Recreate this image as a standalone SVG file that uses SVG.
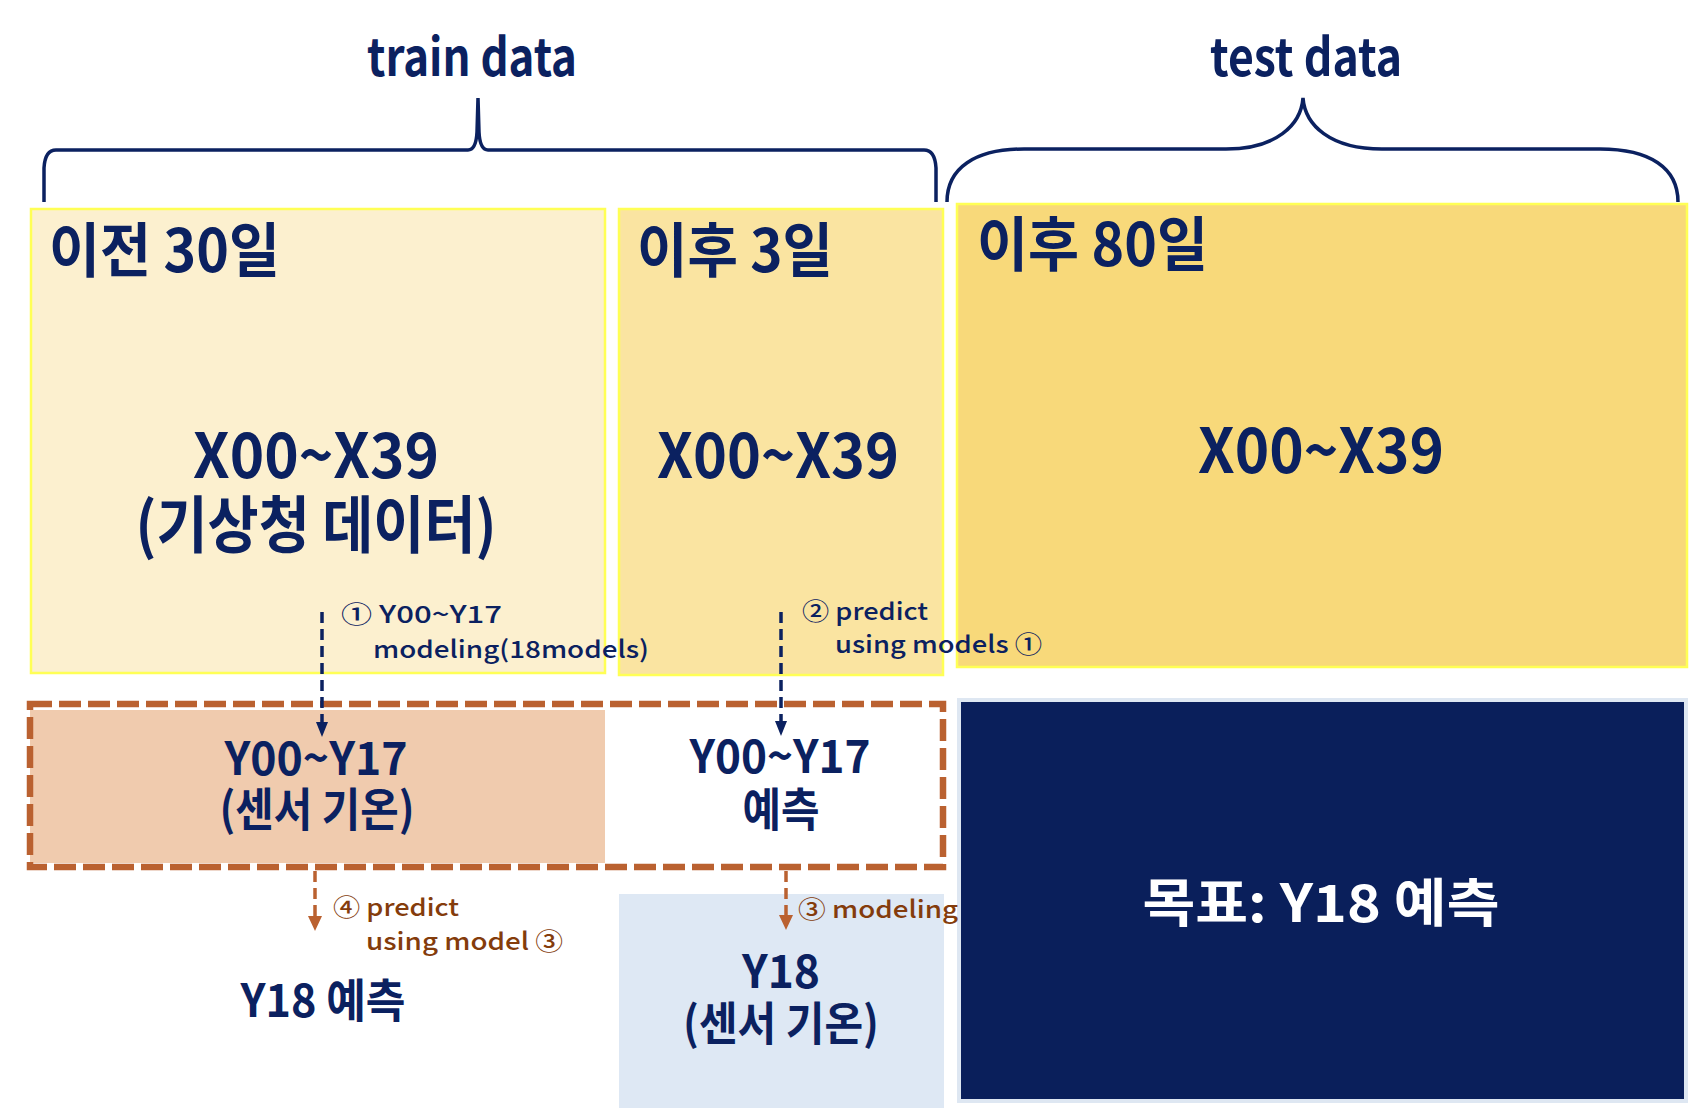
<svg xmlns="http://www.w3.org/2000/svg" width="1702" height="1118" viewBox="0 0 1702 1118">
<style>
.t{font-family:"Noto Sans CJK KR","Noto Sans",sans-serif;font-weight:700;fill:#0B2160}
.w{fill:#FFFFFF}
.c{text-anchor:middle}
.a{font-family:"Noto Sans CJK KR","Noto Sans",sans-serif;font-weight:500;font-size:24px;fill:#0B2160}
.b{font-family:"Noto Sans CJK KR","Noto Sans",sans-serif;font-weight:500;font-size:24px;fill:#843C0C}
.box{stroke:#FFFF55;stroke-width:2.5}
.brace{fill:none;stroke:#0B2160;stroke-width:3.5}
.nav{stroke:#0B2160;stroke-width:3.5;stroke-dasharray:11 6;fill:none}
.org{stroke:#BA6130;stroke-width:3.5;stroke-dasharray:11 6;fill:none}
</style>
<rect width="1702" height="1118" fill="#FFFFFF"/>

<g id="train-label">
<text class="t c" x="472" y="76" font-size="52" textLength="210" lengthAdjust="spacingAndGlyphs">train data</text>
<path class="brace" d="M44,202 L44,168 Q45,150 56,150 L468,150 Q476,150 477,132 L478,98 L479,132 Q480,150 488,150 L924,150 Q935,150 936,168 L936,202"/>
</g>
<g id="test-label">
<text class="t c" x="1306" y="76" font-size="52" textLength="192" lengthAdjust="spacingAndGlyphs">test data</text>
<path class="brace" d="M947,202 C947,168 975,149 1024,149 L1226,149 C1276,149 1301,125 1303,98 C1305,125 1330,149 1382,149 L1600,149 C1650,149 1678,168 1678,202"/>
</g>

<g id="box-prev30">
<rect class="box" x="31" y="209" width="574" height="464" fill="#FCF0CF"/>
<text class="t" x="49" y="272" font-size="59" textLength="231" lengthAdjust="spacingAndGlyphs">이전 30일</text>
<text class="t c" x="316" y="478" font-size="62" textLength="246" lengthAdjust="spacingAndGlyphs">X00~X39</text>
<text class="t c" x="316" y="548" font-size="62" textLength="361" lengthAdjust="spacingAndGlyphs">(기상청 데이터)</text>
</g>
<g id="box-next3">
<rect class="box" x="619" y="209" width="324" height="466" fill="#FAE4A1"/>
<text class="t" x="637" y="272" font-size="59" textLength="196" lengthAdjust="spacingAndGlyphs">이후 3일</text>
<text class="t c" x="778" y="478" font-size="62" textLength="242" lengthAdjust="spacingAndGlyphs">X00~X39</text>
</g>
<g id="box-next80">
<rect class="box" x="957" y="204" width="730" height="463" fill="#F8D97A"/>
<text class="t" x="977" y="266" font-size="59" textLength="231" lengthAdjust="spacingAndGlyphs">이후 80일</text>
<text class="t c" x="1321" y="473" font-size="62" textLength="246" lengthAdjust="spacingAndGlyphs">X00~X39</text>
</g>

<g id="y-train">
<rect x="30" y="710" width="575" height="153" fill="#F0CBAE"/>
<text class="t c" x="316" y="775" font-size="46" textLength="183" lengthAdjust="spacingAndGlyphs">Y00~Y17</text>
<text class="t c" x="317" y="826" font-size="46" textLength="195" lengthAdjust="spacingAndGlyphs">(센서 기온)</text>
</g>
<g id="y-pred">
<text class="t c" x="780" y="773" font-size="46" textLength="181" lengthAdjust="spacingAndGlyphs">Y00~Y17</text>
<text class="t c" x="781" y="826" font-size="46" textLength="77" lengthAdjust="spacingAndGlyphs">예측</text>
</g>
<g id="group-dashed">
<rect x="30" y="704" width="913" height="163" fill="none" stroke="#BA6130" stroke-width="6.5" stroke-dasharray="22 7"/>
</g>

<g id="y18-pred">
<text class="t c" x="323" y="1017" font-size="46" textLength="165" lengthAdjust="spacingAndGlyphs">Y18 예측</text>
</g>
<g id="y18-sensor">
<rect x="619" y="894" width="325" height="214" fill="#DEE8F4"/>
<text class="t c" x="781" y="988" font-size="46" textLength="78" lengthAdjust="spacingAndGlyphs">Y18</text>
<text class="t c" x="781" y="1040" font-size="46" textLength="196" lengthAdjust="spacingAndGlyphs">(센서 기온)</text>
</g>
<g id="goal">
<rect x="957" y="698" width="731" height="405" fill="#DEE7F2"/>
<rect x="961" y="702" width="723" height="397" fill="#0A1F5B"/>
<text class="t w c" x="1321" y="922" font-size="52" textLength="357" lengthAdjust="spacingAndGlyphs">목표: Y18 예측</text>
</g>

<g id="connectors">
<line class="nav" x1="322" y1="612" x2="322" y2="724"/>
<path d="M316,722 L328,722 L322,737 Z" fill="#0B2160"/>
<line class="nav" x1="781" y1="612" x2="781" y2="722"/>
<path d="M775,721 L787,721 L781,736 Z" fill="#0B2160"/>
<line class="org" x1="315" y1="871" x2="315" y2="917"/>
<path d="M308,916 L322,916 L315,931 Z" fill="#BA6130"/>
<line class="org" x1="786" y1="871" x2="786" y2="916"/>
<path d="M779,915 L793,915 L786,930 Z" fill="#BA6130"/>
<text class="a" x="341" y="623" textLength="161" lengthAdjust="spacingAndGlyphs">① Y00~Y17</text>
<text class="a" x="373" y="658" textLength="276" lengthAdjust="spacingAndGlyphs">modeling(18models)</text>
<text class="a" x="802" y="620" textLength="126" lengthAdjust="spacingAndGlyphs">② predict</text>
<text class="a" x="835" y="653" textLength="207" lengthAdjust="spacingAndGlyphs">using models ①</text>
<text class="b" x="333" y="916" textLength="126" lengthAdjust="spacingAndGlyphs">④ predict</text>
<text class="b" x="366" y="950" textLength="197" lengthAdjust="spacingAndGlyphs">using model ③</text>
<text class="b" x="798" y="918" textLength="160" lengthAdjust="spacingAndGlyphs">③ modeling</text>
</g>
</svg>
